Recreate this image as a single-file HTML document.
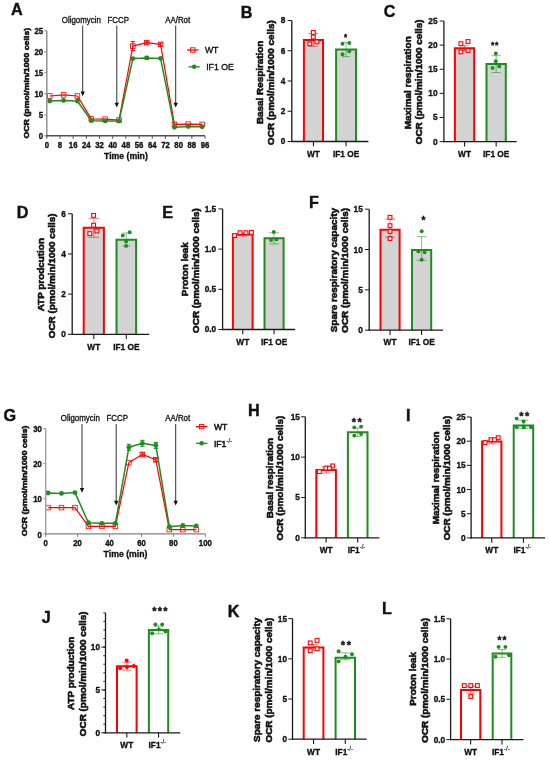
<!DOCTYPE html>
<html><head><meta charset="utf-8"><title>OCR figure</title>
<style>html,body{margin:0;padding:0;background:#fff;width:550px;height:761px;overflow:hidden}svg{display:block}</style>
</head><body>
<svg width="550" height="761" viewBox="0 0 550 761" font-family="'Liberation Sans', Arial, Helvetica, sans-serif">
<rect width="550" height="761" fill="#ffffff"/>
<line x1="82.7" y1="25.5" x2="82.7" y2="93.2" stroke="#333" stroke-width="1"/>
<path d="M80.5 91.4 L84.9 91.4 L82.7 96.2 Z" fill="#111"/>
<text font-size="7.9" text-anchor="middle" fill="#111" stroke="#111" stroke-width="0.3" transform="translate(81.3 22.6) scale(1 1.06)">Oligomycin</text>
<line x1="116.8" y1="25.5" x2="116.8" y2="104.6" stroke="#333" stroke-width="1"/>
<path d="M114.6 102.8 L119 102.8 L116.8 107.6 Z" fill="#111"/>
<text font-size="7.9" text-anchor="middle" fill="#111" stroke="#111" stroke-width="0.3" transform="translate(118.2 22.6) scale(1 1.06)">FCCP</text>
<line x1="175.7" y1="25.5" x2="175.7" y2="104.6" stroke="#333" stroke-width="1"/>
<path d="M173.5 102.8 L177.9 102.8 L175.7 107.6 Z" fill="#111"/>
<text font-size="7.9" text-anchor="middle" fill="#111" stroke="#111" stroke-width="0.3" transform="translate(177.7 22.6) scale(1 1.06)">AA/Rot</text>
<path d="M49.7 96 L63.56 94.9 L77.42 96 L91.28 118.9 L105.14 119.2 L119 120 L132.86 46.1 L146.72 42.6 L160.58 44.4 L174.44 124.4 L188.3 124.2 L202.16 124.4" fill="none" stroke="#ff0000" stroke-width="1.2" stroke-linejoin="round"/>
<rect x="47.4" y="93.7" width="4.6" height="4.6" fill="none" stroke="#ff0000" stroke-width="0.8"/>
<rect x="61.26" y="92.6" width="4.6" height="4.6" fill="none" stroke="#ff0000" stroke-width="0.8"/>
<rect x="75.12" y="93.7" width="4.6" height="4.6" fill="none" stroke="#ff0000" stroke-width="0.8"/>
<rect x="88.98" y="116.6" width="4.6" height="4.6" fill="none" stroke="#ff0000" stroke-width="0.8"/>
<rect x="102.84" y="116.9" width="4.6" height="4.6" fill="none" stroke="#ff0000" stroke-width="0.8"/>
<rect x="116.7" y="117.7" width="4.6" height="4.6" fill="none" stroke="#ff0000" stroke-width="0.8"/>
<line x1="132.86" y1="41.6" x2="132.86" y2="50.6" stroke="#ff0000" stroke-width="1"/>
<line x1="130.66" y1="41.6" x2="135.06" y2="41.6" stroke="#ff0000" stroke-width="1"/>
<line x1="130.66" y1="50.6" x2="135.06" y2="50.6" stroke="#ff0000" stroke-width="1"/>
<rect x="130.56" y="43.8" width="4.6" height="4.6" fill="none" stroke="#ff0000" stroke-width="0.8"/>
<line x1="146.72" y1="41.1" x2="146.72" y2="44.1" stroke="#ff0000" stroke-width="1"/>
<line x1="144.52" y1="41.1" x2="148.92" y2="41.1" stroke="#ff0000" stroke-width="1"/>
<line x1="144.52" y1="44.1" x2="148.92" y2="44.1" stroke="#ff0000" stroke-width="1"/>
<rect x="144.42" y="40.3" width="4.6" height="4.6" fill="none" stroke="#ff0000" stroke-width="0.8"/>
<line x1="160.58" y1="42.9" x2="160.58" y2="45.9" stroke="#ff0000" stroke-width="1"/>
<line x1="158.38" y1="42.9" x2="162.78" y2="42.9" stroke="#ff0000" stroke-width="1"/>
<line x1="158.38" y1="45.9" x2="162.78" y2="45.9" stroke="#ff0000" stroke-width="1"/>
<rect x="158.28" y="42.1" width="4.6" height="4.6" fill="none" stroke="#ff0000" stroke-width="0.8"/>
<rect x="172.14" y="122.1" width="4.6" height="4.6" fill="none" stroke="#ff0000" stroke-width="0.8"/>
<rect x="186" y="121.9" width="4.6" height="4.6" fill="none" stroke="#ff0000" stroke-width="0.8"/>
<rect x="199.86" y="122.1" width="4.6" height="4.6" fill="none" stroke="#ff0000" stroke-width="0.8"/>
<path d="M49.7 101 L63.56 100.4 L77.42 101 L91.28 120.7 L105.14 120.9 L119 121.1 L132.86 58.6 L146.72 57.9 L160.58 58.4 L174.44 127.3 L188.3 126.6 L202.16 126.8" fill="none" stroke="#1e8c1e" stroke-width="1.5" stroke-linejoin="round"/>
<circle cx="49.7" cy="101" r="2.4" fill="#1e8c1e"/>
<circle cx="63.56" cy="100.4" r="2.4" fill="#1e8c1e"/>
<circle cx="77.42" cy="101" r="2.4" fill="#1e8c1e"/>
<circle cx="91.28" cy="120.7" r="2.4" fill="#1e8c1e"/>
<circle cx="105.14" cy="120.9" r="2.4" fill="#1e8c1e"/>
<circle cx="119" cy="121.1" r="2.4" fill="#1e8c1e"/>
<circle cx="132.86" cy="58.6" r="2.4" fill="#1e8c1e"/>
<line x1="146.72" y1="56.4" x2="146.72" y2="59.4" stroke="#1e8c1e" stroke-width="1"/>
<line x1="144.52" y1="56.4" x2="148.92" y2="56.4" stroke="#1e8c1e" stroke-width="1"/>
<line x1="144.52" y1="59.4" x2="148.92" y2="59.4" stroke="#1e8c1e" stroke-width="1"/>
<circle cx="146.72" cy="57.9" r="2.4" fill="#1e8c1e"/>
<circle cx="160.58" cy="58.4" r="2.4" fill="#1e8c1e"/>
<circle cx="174.44" cy="127.3" r="2.4" fill="#1e8c1e"/>
<circle cx="188.3" cy="126.6" r="2.4" fill="#1e8c1e"/>
<circle cx="202.16" cy="126.8" r="2.4" fill="#1e8c1e"/>
<line x1="46.8" y1="136.4" x2="46.8" y2="30.8" stroke="#8a8a8a" stroke-width="1.4"/>
<line x1="44.1" y1="135.8" x2="46.8" y2="135.8" stroke="#8a8a8a" stroke-width="1"/>
<text font-size="7.8" text-anchor="end" font-weight="bold" fill="#111111" stroke="#111111" stroke-width="0.32" transform="translate(43.1 138.61) scale(1 1.06)">0</text>
<line x1="44.1" y1="114.8" x2="46.8" y2="114.8" stroke="#8a8a8a" stroke-width="1"/>
<text font-size="7.8" text-anchor="end" font-weight="bold" fill="#111111" stroke="#111111" stroke-width="0.32" transform="translate(43.1 117.61) scale(1 1.06)">5</text>
<line x1="44.1" y1="93.8" x2="46.8" y2="93.8" stroke="#8a8a8a" stroke-width="1"/>
<text font-size="7.8" text-anchor="end" font-weight="bold" fill="#111111" stroke="#111111" stroke-width="0.32" transform="translate(43.1 96.61) scale(1 1.06)">10</text>
<line x1="44.1" y1="72.8" x2="46.8" y2="72.8" stroke="#8a8a8a" stroke-width="1"/>
<text font-size="7.8" text-anchor="end" font-weight="bold" fill="#111111" stroke="#111111" stroke-width="0.32" transform="translate(43.1 75.61) scale(1 1.06)">15</text>
<line x1="44.1" y1="51.8" x2="46.8" y2="51.8" stroke="#8a8a8a" stroke-width="1"/>
<text font-size="7.8" text-anchor="end" font-weight="bold" fill="#111111" stroke="#111111" stroke-width="0.32" transform="translate(43.1 54.61) scale(1 1.06)">20</text>
<line x1="44.1" y1="30.8" x2="46.8" y2="30.8" stroke="#8a8a8a" stroke-width="1"/>
<text font-size="7.8" text-anchor="end" font-weight="bold" fill="#111111" stroke="#111111" stroke-width="0.32" transform="translate(43.1 33.61) scale(1 1.06)">25</text>
<line x1="46.2" y1="135.8" x2="205" y2="135.8" stroke="#505050" stroke-width="1.4"/>
<line x1="46.8" y1="135.8" x2="46.8" y2="138.8" stroke="#505050" stroke-width="1"/>
<text font-size="7.8" text-anchor="middle" font-weight="bold" fill="#111111" stroke="#111111" stroke-width="0.32" transform="translate(46.8 147.8) scale(1 1.06)">0</text>
<line x1="59.98" y1="135.8" x2="59.98" y2="138.8" stroke="#505050" stroke-width="1"/>
<text font-size="7.8" text-anchor="middle" font-weight="bold" fill="#111111" stroke="#111111" stroke-width="0.32" transform="translate(59.98 147.8) scale(1 1.06)">8</text>
<line x1="73.17" y1="135.8" x2="73.17" y2="138.8" stroke="#505050" stroke-width="1"/>
<text font-size="7.8" text-anchor="middle" font-weight="bold" fill="#111111" stroke="#111111" stroke-width="0.32" transform="translate(73.17 147.8) scale(1 1.06)">16</text>
<line x1="86.35" y1="135.8" x2="86.35" y2="138.8" stroke="#505050" stroke-width="1"/>
<text font-size="7.8" text-anchor="middle" font-weight="bold" fill="#111111" stroke="#111111" stroke-width="0.32" transform="translate(86.35 147.8) scale(1 1.06)">24</text>
<line x1="99.53" y1="135.8" x2="99.53" y2="138.8" stroke="#505050" stroke-width="1"/>
<text font-size="7.8" text-anchor="middle" font-weight="bold" fill="#111111" stroke="#111111" stroke-width="0.32" transform="translate(99.53 147.8) scale(1 1.06)">32</text>
<line x1="112.72" y1="135.8" x2="112.72" y2="138.8" stroke="#505050" stroke-width="1"/>
<text font-size="7.8" text-anchor="middle" font-weight="bold" fill="#111111" stroke="#111111" stroke-width="0.32" transform="translate(112.72 147.8) scale(1 1.06)">40</text>
<line x1="125.9" y1="135.8" x2="125.9" y2="138.8" stroke="#505050" stroke-width="1"/>
<text font-size="7.8" text-anchor="middle" font-weight="bold" fill="#111111" stroke="#111111" stroke-width="0.32" transform="translate(125.9 147.8) scale(1 1.06)">48</text>
<line x1="139.08" y1="135.8" x2="139.08" y2="138.8" stroke="#505050" stroke-width="1"/>
<text font-size="7.8" text-anchor="middle" font-weight="bold" fill="#111111" stroke="#111111" stroke-width="0.32" transform="translate(139.08 147.8) scale(1 1.06)">56</text>
<line x1="152.27" y1="135.8" x2="152.27" y2="138.8" stroke="#505050" stroke-width="1"/>
<text font-size="7.8" text-anchor="middle" font-weight="bold" fill="#111111" stroke="#111111" stroke-width="0.32" transform="translate(152.27 147.8) scale(1 1.06)">64</text>
<line x1="165.45" y1="135.8" x2="165.45" y2="138.8" stroke="#505050" stroke-width="1"/>
<text font-size="7.8" text-anchor="middle" font-weight="bold" fill="#111111" stroke="#111111" stroke-width="0.32" transform="translate(165.45 147.8) scale(1 1.06)">72</text>
<line x1="178.63" y1="135.8" x2="178.63" y2="138.8" stroke="#505050" stroke-width="1"/>
<text font-size="7.8" text-anchor="middle" font-weight="bold" fill="#111111" stroke="#111111" stroke-width="0.32" transform="translate(178.63 147.8) scale(1 1.06)">80</text>
<line x1="191.82" y1="135.8" x2="191.82" y2="138.8" stroke="#505050" stroke-width="1"/>
<text font-size="7.8" text-anchor="middle" font-weight="bold" fill="#111111" stroke="#111111" stroke-width="0.32" transform="translate(191.82 147.8) scale(1 1.06)">88</text>
<line x1="205" y1="135.8" x2="205" y2="138.8" stroke="#505050" stroke-width="1"/>
<text font-size="7.8" text-anchor="middle" font-weight="bold" fill="#111111" stroke="#111111" stroke-width="0.32" transform="translate(205 147.8) scale(1 1.06)">96</text>
<text font-size="8.7" text-anchor="middle" font-weight="bold" fill="#111111" stroke="#111111" stroke-width="0.32" transform="translate(125.9 159.2) scale(1 1.06)">Time (min)</text>
<text font-size="8.8" text-anchor="middle" font-weight="bold" fill="#111111" stroke="#111111" stroke-width="0.6" transform="translate(28.68 83.2) rotate(-90) scale(1 0.92)">OCR (pmol/min/1000 cells)</text>
<line x1="187.1" y1="50" x2="198.5" y2="50" stroke="#ff0000" stroke-width="1.3"/>
<rect x="190.6" y="47.8" width="4.4" height="4.4" fill="none" stroke="#ff0000" stroke-width="0.9"/>
<text font-size="8.7" text-anchor="start" fill="#111" stroke="#111" stroke-width="0.35" transform="translate(204.9 53.2) scale(1 1.06)">WT</text>
<line x1="188.5" y1="66.8" x2="199.8" y2="66.8" stroke="#1e8c1e" stroke-width="1.3"/>
<circle cx="194.15" cy="66.8" r="2.3" fill="#1e8c1e"/>
<text font-size="8.7" text-anchor="start" fill="#111" stroke="#111" stroke-width="0.35" transform="translate(206.2 70) scale(1 1.06)">IF1 OE</text>
<text font-size="16.2" text-anchor="start" font-weight="bold" fill="#111" stroke="#111" stroke-width="0.4" transform="translate(10.9 14.8) scale(1 1)">A</text>
<line x1="82" y1="424" x2="82" y2="489.8" stroke="#333" stroke-width="1"/>
<path d="M79.8 488 L84.2 488 L82 492.8 Z" fill="#111"/>
<text font-size="7.9" text-anchor="middle" fill="#111" stroke="#111" stroke-width="0.3" transform="translate(80.3 421.2) scale(1 1.06)">Oligomycin</text>
<line x1="116.2" y1="424" x2="116.2" y2="502.5" stroke="#333" stroke-width="1"/>
<path d="M114 500.7 L118.4 500.7 L116.2 505.5 Z" fill="#111"/>
<text font-size="7.9" text-anchor="middle" fill="#111" stroke="#111" stroke-width="0.3" transform="translate(117.2 421.2) scale(1 1.06)">FCCP</text>
<line x1="175.7" y1="424" x2="175.7" y2="502.5" stroke="#333" stroke-width="1"/>
<path d="M173.5 500.7 L177.9 500.7 L175.7 505.5 Z" fill="#111"/>
<text font-size="7.9" text-anchor="middle" fill="#111" stroke="#111" stroke-width="0.3" transform="translate(177.7 421.2) scale(1 1.06)">AA/Rot</text>
<path d="M48 507.6 L61.48 507.6 L74.96 507.6 L88.44 526.4 L101.92 526.4 L115.4 526.4 L128.88 462.6 L142.36 454.4 L155.84 459.8 L169.32 529.6 L182.8 529.6 L196.28 529.6" fill="none" stroke="#ff0000" stroke-width="1.2" stroke-linejoin="round"/>
<rect x="45.7" y="505.3" width="4.6" height="4.6" fill="none" stroke="#ff0000" stroke-width="0.8"/>
<rect x="59.18" y="505.3" width="4.6" height="4.6" fill="none" stroke="#ff0000" stroke-width="0.8"/>
<rect x="72.66" y="505.3" width="4.6" height="4.6" fill="none" stroke="#ff0000" stroke-width="0.8"/>
<rect x="86.14" y="524.1" width="4.6" height="4.6" fill="none" stroke="#ff0000" stroke-width="0.8"/>
<rect x="99.62" y="524.1" width="4.6" height="4.6" fill="none" stroke="#ff0000" stroke-width="0.8"/>
<rect x="113.1" y="524.1" width="4.6" height="4.6" fill="none" stroke="#ff0000" stroke-width="0.8"/>
<rect x="126.58" y="460.3" width="4.6" height="4.6" fill="none" stroke="#ff0000" stroke-width="0.8"/>
<line x1="142.36" y1="452.9" x2="142.36" y2="455.9" stroke="#ff0000" stroke-width="1"/>
<line x1="140.16" y1="452.9" x2="144.56" y2="452.9" stroke="#ff0000" stroke-width="1"/>
<line x1="140.16" y1="455.9" x2="144.56" y2="455.9" stroke="#ff0000" stroke-width="1"/>
<rect x="140.06" y="452.1" width="4.6" height="4.6" fill="none" stroke="#ff0000" stroke-width="0.8"/>
<line x1="155.84" y1="458.3" x2="155.84" y2="461.3" stroke="#ff0000" stroke-width="1"/>
<line x1="153.64" y1="458.3" x2="158.04" y2="458.3" stroke="#ff0000" stroke-width="1"/>
<line x1="153.64" y1="461.3" x2="158.04" y2="461.3" stroke="#ff0000" stroke-width="1"/>
<rect x="153.54" y="457.5" width="4.6" height="4.6" fill="none" stroke="#ff0000" stroke-width="0.8"/>
<rect x="167.02" y="527.3" width="4.6" height="4.6" fill="none" stroke="#ff0000" stroke-width="0.8"/>
<rect x="180.5" y="527.3" width="4.6" height="4.6" fill="none" stroke="#ff0000" stroke-width="0.8"/>
<rect x="193.98" y="527.3" width="4.6" height="4.6" fill="none" stroke="#ff0000" stroke-width="0.8"/>
<path d="M48 493 L61.48 493.4 L74.96 492.6 L88.44 522.7 L101.92 523.3 L115.4 523.3 L128.88 447.3 L142.36 443.3 L155.84 445.4 L169.32 526.7 L182.8 525.5 L196.28 526" fill="none" stroke="#1e8c1e" stroke-width="1.5" stroke-linejoin="round"/>
<circle cx="48" cy="493" r="2.4" fill="#1e8c1e"/>
<circle cx="61.48" cy="493.4" r="2.4" fill="#1e8c1e"/>
<circle cx="74.96" cy="492.6" r="2.4" fill="#1e8c1e"/>
<circle cx="88.44" cy="522.7" r="2.4" fill="#1e8c1e"/>
<circle cx="101.92" cy="523.3" r="2.4" fill="#1e8c1e"/>
<circle cx="115.4" cy="523.3" r="2.4" fill="#1e8c1e"/>
<line x1="128.88" y1="444.3" x2="128.88" y2="450.3" stroke="#1e8c1e" stroke-width="1"/>
<line x1="126.68" y1="444.3" x2="131.08" y2="444.3" stroke="#1e8c1e" stroke-width="1"/>
<line x1="126.68" y1="450.3" x2="131.08" y2="450.3" stroke="#1e8c1e" stroke-width="1"/>
<circle cx="128.88" cy="447.3" r="2.4" fill="#1e8c1e"/>
<line x1="142.36" y1="440.3" x2="142.36" y2="446.3" stroke="#1e8c1e" stroke-width="1"/>
<line x1="140.16" y1="440.3" x2="144.56" y2="440.3" stroke="#1e8c1e" stroke-width="1"/>
<line x1="140.16" y1="446.3" x2="144.56" y2="446.3" stroke="#1e8c1e" stroke-width="1"/>
<circle cx="142.36" cy="443.3" r="2.4" fill="#1e8c1e"/>
<line x1="155.84" y1="442.4" x2="155.84" y2="448.4" stroke="#1e8c1e" stroke-width="1"/>
<line x1="153.64" y1="442.4" x2="158.04" y2="442.4" stroke="#1e8c1e" stroke-width="1"/>
<line x1="153.64" y1="448.4" x2="158.04" y2="448.4" stroke="#1e8c1e" stroke-width="1"/>
<circle cx="155.84" cy="445.4" r="2.4" fill="#1e8c1e"/>
<circle cx="169.32" cy="526.7" r="2.4" fill="#1e8c1e"/>
<circle cx="182.8" cy="525.5" r="2.4" fill="#1e8c1e"/>
<circle cx="196.28" cy="526" r="2.4" fill="#1e8c1e"/>
<line x1="45.7" y1="534.5" x2="45.7" y2="428.39" stroke="#a0a0a0" stroke-width="1.4"/>
<line x1="43.2" y1="533.9" x2="45.7" y2="533.9" stroke="#a0a0a0" stroke-width="1"/>
<text font-size="7.8" text-anchor="end" font-weight="bold" fill="#111111" stroke="#111111" stroke-width="0.32" transform="translate(41.8 537.61) scale(1 1.06)">0</text>
<line x1="43.2" y1="498.73" x2="45.7" y2="498.73" stroke="#a0a0a0" stroke-width="1"/>
<text font-size="7.8" text-anchor="end" font-weight="bold" fill="#111111" stroke="#111111" stroke-width="0.32" transform="translate(41.8 502.44) scale(1 1.06)">10</text>
<line x1="43.2" y1="463.56" x2="45.7" y2="463.56" stroke="#a0a0a0" stroke-width="1"/>
<text font-size="7.8" text-anchor="end" font-weight="bold" fill="#111111" stroke="#111111" stroke-width="0.32" transform="translate(41.8 467.27) scale(1 1.06)">20</text>
<line x1="43.2" y1="428.39" x2="45.7" y2="428.39" stroke="#a0a0a0" stroke-width="1"/>
<text font-size="7.8" text-anchor="end" font-weight="bold" fill="#111111" stroke="#111111" stroke-width="0.32" transform="translate(41.8 432.1) scale(1 1.06)">30</text>
<line x1="45.1" y1="533.9" x2="205.3" y2="533.9" stroke="#808080" stroke-width="1.4"/>
<line x1="45.7" y1="533.9" x2="45.7" y2="536.9" stroke="#808080" stroke-width="1"/>
<text font-size="7.8" text-anchor="middle" font-weight="bold" fill="#111111" stroke="#111111" stroke-width="0.32" transform="translate(45.7 546.3) scale(1 1.06)">0</text>
<line x1="77.62" y1="533.9" x2="77.62" y2="536.9" stroke="#808080" stroke-width="1"/>
<text font-size="7.8" text-anchor="middle" font-weight="bold" fill="#111111" stroke="#111111" stroke-width="0.32" transform="translate(77.62 546.3) scale(1 1.06)">20</text>
<line x1="109.54" y1="533.9" x2="109.54" y2="536.9" stroke="#808080" stroke-width="1"/>
<text font-size="7.8" text-anchor="middle" font-weight="bold" fill="#111111" stroke="#111111" stroke-width="0.32" transform="translate(109.54 546.3) scale(1 1.06)">40</text>
<line x1="141.46" y1="533.9" x2="141.46" y2="536.9" stroke="#808080" stroke-width="1"/>
<text font-size="7.8" text-anchor="middle" font-weight="bold" fill="#111111" stroke="#111111" stroke-width="0.32" transform="translate(141.46 546.3) scale(1 1.06)">60</text>
<line x1="173.38" y1="533.9" x2="173.38" y2="536.9" stroke="#808080" stroke-width="1"/>
<text font-size="7.8" text-anchor="middle" font-weight="bold" fill="#111111" stroke="#111111" stroke-width="0.32" transform="translate(173.38 546.3) scale(1 1.06)">80</text>
<line x1="205.3" y1="533.9" x2="205.3" y2="536.9" stroke="#808080" stroke-width="1"/>
<text font-size="7.8" text-anchor="middle" font-weight="bold" fill="#111111" stroke="#111111" stroke-width="0.32" transform="translate(205.3 546.3) scale(1 1.06)">100</text>
<text font-size="8.7" text-anchor="middle" font-weight="bold" fill="#111111" stroke="#111111" stroke-width="0.32" transform="translate(125.5 557) scale(1 1.06)">Time (min)</text>
<text font-size="8.8" text-anchor="middle" font-weight="bold" fill="#111111" stroke="#111111" stroke-width="0.6" transform="translate(27.38 480.95) rotate(-90) scale(1 0.92)">OCR (pmol/min/1000 cells)</text>
<line x1="195.9" y1="426.6" x2="207.4" y2="426.6" stroke="#ff0000" stroke-width="1.3"/>
<rect x="199.45" y="424.4" width="4.4" height="4.4" fill="none" stroke="#ff0000" stroke-width="0.9"/>
<text font-size="8.7" text-anchor="start" fill="#111" stroke="#111" stroke-width="0.5" transform="translate(213.9 429.8) scale(1 1.06)">WT</text>
<line x1="195.9" y1="443.3" x2="207.4" y2="443.3" stroke="#1e8c1e" stroke-width="1.3"/>
<circle cx="201.65" cy="443.3" r="2.3" fill="#1e8c1e"/>
<text font-size="8.7" text-anchor="start" fill="#111" stroke="#111" stroke-width="0.5" transform="translate(213.9 446.5) scale(1 1.06)">IF1<tspan font-size="6" dy="-3.6" font-weight="normal" stroke-width="0.15">-/-</tspan></text>
<text font-size="16.2" text-anchor="start" font-weight="bold" fill="#111" stroke="#111" stroke-width="0.4" transform="translate(3.5 420.5) scale(1 1)">G</text>
<path d="M303.9 141.5 V39.9 H323 V141.5 Z" fill="#d3d3d3" stroke="none"/>
<path d="M303.9 141.5 V39.9 H323 V141.5" fill="none" stroke="#ff0000" stroke-width="2"/>
<path d="M336.1 141.5 V49.5 H356 V141.5 Z" fill="#d3d3d3" stroke="none"/>
<path d="M336.1 141.5 V49.5 H356 V141.5" fill="none" stroke="#1e8c1e" stroke-width="2"/>
<line x1="313.45" y1="33.5" x2="313.45" y2="46.3" stroke="#ff0000" stroke-width="0.9" stroke-opacity="0.6"/>
<line x1="308.75" y1="33.5" x2="318.15" y2="33.5" stroke="#ff0000" stroke-width="0.9" stroke-opacity="0.6"/>
<line x1="308.75" y1="46.3" x2="318.15" y2="46.3" stroke="#ff0000" stroke-width="0.9" stroke-opacity="0.6"/>
<rect x="311.4" y="30.5" width="3.8" height="3.8" fill="#ffffff" stroke="#ff0000" stroke-width="1.1"/>
<rect x="311.4" y="35.1" width="3.8" height="3.8" fill="#ffffff" stroke="#ff0000" stroke-width="1.1"/>
<rect x="307.9" y="41.9" width="3.8" height="3.8" fill="#ffffff" stroke="#ff0000" stroke-width="1.1"/>
<rect x="315" y="40" width="3.8" height="3.8" fill="#ffffff" stroke="#ff0000" stroke-width="1.1"/>
<line x1="346.05" y1="42.4" x2="346.05" y2="56.6" stroke="#1e8c1e" stroke-width="0.9" stroke-opacity="0.6"/>
<line x1="342.05" y1="42.4" x2="350.05" y2="42.4" stroke="#1e8c1e" stroke-width="0.9" stroke-opacity="0.6"/>
<line x1="342.05" y1="56.6" x2="350.05" y2="56.6" stroke="#1e8c1e" stroke-width="0.9" stroke-opacity="0.6"/>
<circle cx="342.5" cy="43.8" r="1.95" fill="#1e8c1e"/>
<circle cx="349.3" cy="43" r="1.95" fill="#1e8c1e"/>
<circle cx="342.5" cy="54.2" r="1.95" fill="#1e8c1e"/>
<circle cx="349.3" cy="51.2" r="1.95" fill="#1e8c1e"/>
<text font-size="8" text-anchor="middle" font-weight="bold" fill="#111111" stroke="#111111" stroke-width="0.35" transform="translate(345.6 40.28) scale(1 1.06)">*</text>
<line x1="291.8" y1="142.1" x2="291.8" y2="20.5" stroke="#1a1a1a" stroke-width="1.3"/>
<line x1="287.6" y1="141.5" x2="291.8" y2="141.5" stroke="#1a1a1a" stroke-width="1"/>
<text font-size="8.3" text-anchor="end" font-weight="bold" fill="#111111" stroke="#111111" stroke-width="0.32" transform="translate(285.4 144.49) scale(1 1.06)">0</text>
<line x1="287.6" y1="111.25" x2="291.8" y2="111.25" stroke="#1a1a1a" stroke-width="1"/>
<text font-size="8.3" text-anchor="end" font-weight="bold" fill="#111111" stroke="#111111" stroke-width="0.32" transform="translate(285.4 114.24) scale(1 1.06)">2</text>
<line x1="287.6" y1="81" x2="291.8" y2="81" stroke="#1a1a1a" stroke-width="1"/>
<text font-size="8.3" text-anchor="end" font-weight="bold" fill="#111111" stroke="#111111" stroke-width="0.32" transform="translate(285.4 83.99) scale(1 1.06)">4</text>
<line x1="287.6" y1="50.75" x2="291.8" y2="50.75" stroke="#1a1a1a" stroke-width="1"/>
<text font-size="8.3" text-anchor="end" font-weight="bold" fill="#111111" stroke="#111111" stroke-width="0.32" transform="translate(285.4 53.74) scale(1 1.06)">6</text>
<line x1="287.6" y1="20.5" x2="291.8" y2="20.5" stroke="#1a1a1a" stroke-width="1"/>
<text font-size="8.3" text-anchor="end" font-weight="bold" fill="#111111" stroke="#111111" stroke-width="0.32" transform="translate(285.4 23.49) scale(1 1.06)">8</text>
<line x1="291.2" y1="141.5" x2="368.4" y2="141.5" stroke="#1a1a1a" stroke-width="1.3"/>
<line x1="313.45" y1="141.5" x2="313.45" y2="146.3" stroke="#1a1a1a" stroke-width="1.1"/>
<text font-size="8.3" text-anchor="middle" font-weight="bold" fill="#111111" stroke="#111111" stroke-width="0.32" transform="translate(313.45 157) scale(1 1.06)">WT</text>
<line x1="346.05" y1="141.5" x2="346.05" y2="146.3" stroke="#1a1a1a" stroke-width="1.1"/>
<text font-size="8.3" text-anchor="middle" font-weight="bold" fill="#111111" stroke="#111111" stroke-width="0.32" transform="translate(346.05 157) scale(1 1.06)">IF1 OE</text>
<text font-size="9.9" text-anchor="middle" font-weight="bold" fill="#111111" stroke="#111111" stroke-width="0.6" transform="translate(263.37 82.35) rotate(-90) scale(1 0.92)">Basal Respiration</text>
<text font-size="9.9" text-anchor="middle" font-weight="bold" fill="#111111" stroke="#111111" stroke-width="0.6" transform="translate(273.6 82.53) rotate(-90) scale(1 0.92)">OCR (pmol/min/1000 cells)</text>
<text font-size="16.2" text-anchor="start" font-weight="bold" fill="#111" stroke="#111" stroke-width="0.4" transform="translate(240.7 17.5) scale(1 1)">B</text>
<path d="M454.9 141.6 V48.3 H474.2 V141.6 Z" fill="#d3d3d3" stroke="none"/>
<path d="M454.9 141.6 V48.3 H474.2 V141.6" fill="none" stroke="#ff0000" stroke-width="2"/>
<path d="M486.5 141.6 V64.1 H505.8 V141.6 Z" fill="#d3d3d3" stroke="none"/>
<path d="M486.5 141.6 V64.1 H505.8 V141.6" fill="none" stroke="#1e8c1e" stroke-width="2"/>
<line x1="464.55" y1="45.7" x2="464.55" y2="50.7" stroke="#ff0000" stroke-width="0.9" stroke-opacity="0.6"/>
<line x1="460.55" y1="45.7" x2="468.55" y2="45.7" stroke="#ff0000" stroke-width="0.9" stroke-opacity="0.6"/>
<line x1="460.55" y1="50.7" x2="468.55" y2="50.7" stroke="#ff0000" stroke-width="0.9" stroke-opacity="0.6"/>
<rect x="459" y="41.8" width="3.8" height="3.8" fill="#ffffff" stroke="#ff0000" stroke-width="1.1"/>
<rect x="466.1" y="39.6" width="3.8" height="3.8" fill="#ffffff" stroke="#ff0000" stroke-width="1.1"/>
<rect x="459" y="50" width="3.8" height="3.8" fill="#ffffff" stroke="#ff0000" stroke-width="1.1"/>
<rect x="466.1" y="48.6" width="3.8" height="3.8" fill="#ffffff" stroke="#ff0000" stroke-width="1.1"/>
<line x1="496.15" y1="55.7" x2="496.15" y2="72.5" stroke="#1e8c1e" stroke-width="0.9" stroke-opacity="0.6"/>
<line x1="491.45" y1="55.7" x2="500.85" y2="55.7" stroke="#1e8c1e" stroke-width="0.9" stroke-opacity="0.6"/>
<line x1="491.45" y1="72.5" x2="500.85" y2="72.5" stroke="#1e8c1e" stroke-width="0.9" stroke-opacity="0.6"/>
<circle cx="495.8" cy="53.5" r="1.95" fill="#1e8c1e"/>
<circle cx="495.8" cy="61.2" r="1.95" fill="#1e8c1e"/>
<circle cx="492.5" cy="67.9" r="1.95" fill="#1e8c1e"/>
<circle cx="499.3" cy="66.4" r="1.95" fill="#1e8c1e"/>
<text font-size="8.5" text-anchor="middle" font-weight="bold" fill="#111111" stroke="#111111" stroke-width="0.35" transform="translate(492.7 47.94) scale(1 1.06)">*</text>
<text font-size="8.5" text-anchor="middle" font-weight="bold" fill="#111111" stroke="#111111" stroke-width="0.35" transform="translate(496.6 47.94) scale(1 1.06)">*</text>
<line x1="443.9" y1="142.2" x2="443.9" y2="21" stroke="#1a1a1a" stroke-width="1.3"/>
<line x1="439.7" y1="141.6" x2="443.9" y2="141.6" stroke="#1a1a1a" stroke-width="1"/>
<text font-size="8.3" text-anchor="end" font-weight="bold" fill="#111111" stroke="#111111" stroke-width="0.32" transform="translate(437.5 144.59) scale(1 1.06)">0</text>
<line x1="439.7" y1="117.48" x2="443.9" y2="117.48" stroke="#1a1a1a" stroke-width="1"/>
<text font-size="8.3" text-anchor="end" font-weight="bold" fill="#111111" stroke="#111111" stroke-width="0.32" transform="translate(437.5 120.47) scale(1 1.06)">5</text>
<line x1="439.7" y1="93.36" x2="443.9" y2="93.36" stroke="#1a1a1a" stroke-width="1"/>
<text font-size="8.3" text-anchor="end" font-weight="bold" fill="#111111" stroke="#111111" stroke-width="0.32" transform="translate(437.5 96.35) scale(1 1.06)">10</text>
<line x1="439.7" y1="69.24" x2="443.9" y2="69.24" stroke="#1a1a1a" stroke-width="1"/>
<text font-size="8.3" text-anchor="end" font-weight="bold" fill="#111111" stroke="#111111" stroke-width="0.32" transform="translate(437.5 72.23) scale(1 1.06)">15</text>
<line x1="439.7" y1="45.12" x2="443.9" y2="45.12" stroke="#1a1a1a" stroke-width="1"/>
<text font-size="8.3" text-anchor="end" font-weight="bold" fill="#111111" stroke="#111111" stroke-width="0.32" transform="translate(437.5 48.11) scale(1 1.06)">20</text>
<line x1="439.7" y1="21" x2="443.9" y2="21" stroke="#1a1a1a" stroke-width="1"/>
<text font-size="8.3" text-anchor="end" font-weight="bold" fill="#111111" stroke="#111111" stroke-width="0.32" transform="translate(437.5 23.99) scale(1 1.06)">25</text>
<line x1="443.3" y1="141.6" x2="516.7" y2="141.6" stroke="#1a1a1a" stroke-width="1.3"/>
<line x1="464.55" y1="141.6" x2="464.55" y2="146.4" stroke="#1a1a1a" stroke-width="1.1"/>
<text font-size="8.3" text-anchor="middle" font-weight="bold" fill="#111111" stroke="#111111" stroke-width="0.32" transform="translate(464.55 156.6) scale(1 1.06)">WT</text>
<line x1="496.15" y1="141.6" x2="496.15" y2="146.4" stroke="#1a1a1a" stroke-width="1.1"/>
<text font-size="8.3" text-anchor="middle" font-weight="bold" fill="#111111" stroke="#111111" stroke-width="0.32" transform="translate(496.15 156.6) scale(1 1.06)">IF1 OE</text>
<text font-size="9.9" text-anchor="middle" font-weight="bold" fill="#111111" stroke="#111111" stroke-width="0.6" transform="translate(411.37 82.74) rotate(-90) scale(1 0.92)">Maximal respiration</text>
<text font-size="9.9" text-anchor="middle" font-weight="bold" fill="#111111" stroke="#111111" stroke-width="0.6" transform="translate(421.63 81.93) rotate(-90) scale(1 0.92)">OCR (pmol/min/1000 cells)</text>
<text font-size="16.2" text-anchor="start" font-weight="bold" fill="#111" stroke="#111" stroke-width="0.4" transform="translate(383.8 17.4) scale(1 1)">C</text>
<path d="M83.7 334.3 V227.8 H103.9 V334.3 Z" fill="#d3d3d3" stroke="none"/>
<path d="M83.7 334.3 V227.8 H103.9 V334.3" fill="none" stroke="#ff0000" stroke-width="2"/>
<path d="M116.5 334.3 V239.8 H136.1 V334.3 Z" fill="#d3d3d3" stroke="none"/>
<path d="M116.5 334.3 V239.8 H136.1 V334.3" fill="none" stroke="#1e8c1e" stroke-width="2"/>
<line x1="93.8" y1="218.3" x2="93.8" y2="237.3" stroke="#ff0000" stroke-width="0.9" stroke-opacity="0.6"/>
<line x1="88.5" y1="218.3" x2="99.1" y2="218.3" stroke="#ff0000" stroke-width="0.9" stroke-opacity="0.6"/>
<line x1="88.5" y1="237.3" x2="99.1" y2="237.3" stroke="#ff0000" stroke-width="0.9" stroke-opacity="0.6"/>
<rect x="91.7" y="213.5" width="3.8" height="3.8" fill="#ffffff" stroke="#ff0000" stroke-width="1.1"/>
<rect x="91.7" y="223.3" width="3.8" height="3.8" fill="#ffffff" stroke="#ff0000" stroke-width="1.1"/>
<rect x="87.9" y="231.7" width="3.8" height="3.8" fill="#ffffff" stroke="#ff0000" stroke-width="1.1"/>
<rect x="95" y="229.1" width="3.8" height="3.8" fill="#ffffff" stroke="#ff0000" stroke-width="1.1"/>
<line x1="126.3" y1="233" x2="126.3" y2="246" stroke="#1e8c1e" stroke-width="0.9" stroke-opacity="0.6"/>
<line x1="122.3" y1="233" x2="130.3" y2="233" stroke="#1e8c1e" stroke-width="0.9" stroke-opacity="0.6"/>
<line x1="122.3" y1="246" x2="130.3" y2="246" stroke="#1e8c1e" stroke-width="0.9" stroke-opacity="0.6"/>
<circle cx="122.8" cy="235.5" r="1.95" fill="#1e8c1e"/>
<circle cx="129.7" cy="232.3" r="1.95" fill="#1e8c1e"/>
<circle cx="126.1" cy="241.4" r="1.95" fill="#1e8c1e"/>
<circle cx="126.1" cy="245.9" r="1.95" fill="#1e8c1e"/>
<line x1="72.2" y1="334.9" x2="72.2" y2="213.8" stroke="#1a1a1a" stroke-width="1.3"/>
<line x1="68" y1="334.3" x2="72.2" y2="334.3" stroke="#1a1a1a" stroke-width="1"/>
<text font-size="8.3" text-anchor="end" font-weight="bold" fill="#111111" stroke="#111111" stroke-width="0.32" transform="translate(65.8 337.29) scale(1 1.06)">0</text>
<line x1="68" y1="294.13" x2="72.2" y2="294.13" stroke="#1a1a1a" stroke-width="1"/>
<text font-size="8.3" text-anchor="end" font-weight="bold" fill="#111111" stroke="#111111" stroke-width="0.32" transform="translate(65.8 297.12) scale(1 1.06)">2</text>
<line x1="68" y1="253.97" x2="72.2" y2="253.97" stroke="#1a1a1a" stroke-width="1"/>
<text font-size="8.3" text-anchor="end" font-weight="bold" fill="#111111" stroke="#111111" stroke-width="0.32" transform="translate(65.8 256.95) scale(1 1.06)">4</text>
<line x1="68" y1="213.8" x2="72.2" y2="213.8" stroke="#1a1a1a" stroke-width="1"/>
<text font-size="8.3" text-anchor="end" font-weight="bold" fill="#111111" stroke="#111111" stroke-width="0.32" transform="translate(65.8 216.79) scale(1 1.06)">6</text>
<line x1="71.6" y1="334.3" x2="149.2" y2="334.3" stroke="#1a1a1a" stroke-width="1.3"/>
<line x1="93.8" y1="334.3" x2="93.8" y2="339.1" stroke="#1a1a1a" stroke-width="1.1"/>
<text font-size="8.3" text-anchor="middle" font-weight="bold" fill="#111111" stroke="#111111" stroke-width="0.32" transform="translate(93.8 350.2) scale(1 1.06)">WT</text>
<line x1="126.3" y1="334.3" x2="126.3" y2="339.1" stroke="#1a1a1a" stroke-width="1.1"/>
<text font-size="8.3" text-anchor="middle" font-weight="bold" fill="#111111" stroke="#111111" stroke-width="0.32" transform="translate(126.3 350.2) scale(1 1.06)">IF1 OE</text>
<text font-size="9.9" text-anchor="middle" font-weight="bold" fill="#111111" stroke="#111111" stroke-width="0.6" transform="translate(44.29 274.68) rotate(-90) scale(1 0.92)">ATP prodcution</text>
<text font-size="9.9" text-anchor="middle" font-weight="bold" fill="#111111" stroke="#111111" stroke-width="0.6" transform="translate(54.68 275.94) rotate(-90) scale(1 0.92)">OCR (pmol/min/1000 cells)</text>
<text font-size="16.2" text-anchor="start" font-weight="bold" fill="#111" stroke="#111" stroke-width="0.4" transform="translate(16.7 217.7) scale(1 1)">D</text>
<path d="M232.9 329.5 V234.5 H252.6 V329.5 Z" fill="#d3d3d3" stroke="none"/>
<path d="M232.9 329.5 V234.5 H252.6 V329.5" fill="none" stroke="#ff0000" stroke-width="2"/>
<path d="M264.5 329.5 V238.3 H283.6 V329.5 Z" fill="#d3d3d3" stroke="none"/>
<path d="M264.5 329.5 V238.3 H283.6 V329.5" fill="none" stroke="#1e8c1e" stroke-width="2"/>
<line x1="242.75" y1="233" x2="242.75" y2="236" stroke="#ff0000" stroke-width="0.9" stroke-opacity="0.6"/>
<line x1="238.75" y1="233" x2="246.75" y2="233" stroke="#ff0000" stroke-width="0.9" stroke-opacity="0.6"/>
<line x1="238.75" y1="236" x2="246.75" y2="236" stroke="#ff0000" stroke-width="0.9" stroke-opacity="0.6"/>
<rect x="232.6" y="233.7" width="3.8" height="3.8" fill="#ffffff" stroke="#ff0000" stroke-width="1.1"/>
<rect x="238.1" y="230.8" width="3.8" height="3.8" fill="#ffffff" stroke="#ff0000" stroke-width="1.1"/>
<rect x="244.1" y="230.8" width="3.8" height="3.8" fill="#ffffff" stroke="#ff0000" stroke-width="1.1"/>
<rect x="249.5" y="230.5" width="3.8" height="3.8" fill="#ffffff" stroke="#ff0000" stroke-width="1.1"/>
<line x1="274.05" y1="232.7" x2="274.05" y2="243.9" stroke="#1e8c1e" stroke-width="0.9" stroke-opacity="0.6"/>
<line x1="269.15" y1="232.7" x2="278.95" y2="232.7" stroke="#1e8c1e" stroke-width="0.9" stroke-opacity="0.6"/>
<line x1="269.15" y1="243.9" x2="278.95" y2="243.9" stroke="#1e8c1e" stroke-width="0.9" stroke-opacity="0.6"/>
<circle cx="273.8" cy="232" r="1.95" fill="#1e8c1e"/>
<circle cx="271.1" cy="240" r="1.95" fill="#1e8c1e"/>
<circle cx="276.5" cy="239.4" r="1.95" fill="#1e8c1e"/>
<line x1="222.6" y1="330.1" x2="222.6" y2="208.9" stroke="#1a1a1a" stroke-width="1.3"/>
<line x1="218.4" y1="329.5" x2="222.6" y2="329.5" stroke="#1a1a1a" stroke-width="1"/>
<text font-size="8.3" text-anchor="end" font-weight="bold" fill="#111111" stroke="#111111" stroke-width="0.32" transform="translate(216.2 332.49) scale(1 1.06)">0.0</text>
<line x1="218.4" y1="289.3" x2="222.6" y2="289.3" stroke="#1a1a1a" stroke-width="1"/>
<text font-size="8.3" text-anchor="end" font-weight="bold" fill="#111111" stroke="#111111" stroke-width="0.32" transform="translate(216.2 292.29) scale(1 1.06)">0.5</text>
<line x1="218.4" y1="249.1" x2="222.6" y2="249.1" stroke="#1a1a1a" stroke-width="1"/>
<text font-size="8.3" text-anchor="end" font-weight="bold" fill="#111111" stroke="#111111" stroke-width="0.32" transform="translate(216.2 252.09) scale(1 1.06)">1.0</text>
<line x1="218.4" y1="208.9" x2="222.6" y2="208.9" stroke="#1a1a1a" stroke-width="1"/>
<text font-size="8.3" text-anchor="end" font-weight="bold" fill="#111111" stroke="#111111" stroke-width="0.32" transform="translate(216.2 211.89) scale(1 1.06)">1.5</text>
<line x1="222" y1="329.5" x2="295.1" y2="329.5" stroke="#1a1a1a" stroke-width="1.3"/>
<line x1="242.75" y1="329.5" x2="242.75" y2="334.3" stroke="#1a1a1a" stroke-width="1.1"/>
<text font-size="8.3" text-anchor="middle" font-weight="bold" fill="#111111" stroke="#111111" stroke-width="0.32" transform="translate(242.75 345.2) scale(1 1.06)">WT</text>
<line x1="274.05" y1="329.5" x2="274.05" y2="334.3" stroke="#1a1a1a" stroke-width="1.1"/>
<text font-size="8.3" text-anchor="middle" font-weight="bold" fill="#111111" stroke="#111111" stroke-width="0.32" transform="translate(274.05 345.2) scale(1 1.06)">IF1 OE</text>
<text font-size="9.9" text-anchor="middle" font-weight="bold" fill="#111111" stroke="#111111" stroke-width="0.6" transform="translate(188.22 269.2) rotate(-90) scale(1 0.92)">Proton leak</text>
<text font-size="9.9" text-anchor="middle" font-weight="bold" fill="#111111" stroke="#111111" stroke-width="0.6" transform="translate(198.57 270.55) rotate(-90) scale(1 0.92)">OCR (pmol/min/1000 cells)</text>
<text font-size="16.2" text-anchor="start" font-weight="bold" fill="#111" stroke="#111" stroke-width="0.4" transform="translate(162.2 217.7) scale(1 1)">E</text>
<path d="M380.5 330.2 V229.7 H399.6 V330.2 Z" fill="#d3d3d3" stroke="none"/>
<path d="M380.5 330.2 V229.7 H399.6 V330.2" fill="none" stroke="#ff0000" stroke-width="2"/>
<path d="M412 330.2 V249.9 H431.2 V330.2 Z" fill="#d3d3d3" stroke="none"/>
<path d="M412 330.2 V249.9 H431.2 V330.2" fill="none" stroke="#1e8c1e" stroke-width="2"/>
<line x1="390.05" y1="219.1" x2="390.05" y2="237.2" stroke="#ff0000" stroke-width="0.9" stroke-opacity="0.6"/>
<line x1="384.95" y1="219.1" x2="395.15" y2="219.1" stroke="#ff0000" stroke-width="0.9" stroke-opacity="0.6"/>
<line x1="384.95" y1="237.2" x2="395.15" y2="237.2" stroke="#ff0000" stroke-width="0.9" stroke-opacity="0.6"/>
<rect x="388.1" y="215.4" width="3.8" height="3.8" fill="#ffffff" stroke="#ff0000" stroke-width="1.1"/>
<rect x="388.1" y="223.8" width="3.8" height="3.8" fill="#ffffff" stroke="#ff0000" stroke-width="1.1"/>
<rect x="388.1" y="229.5" width="3.8" height="3.8" fill="#ffffff" stroke="#ff0000" stroke-width="1.1"/>
<rect x="388.1" y="236.6" width="3.8" height="3.8" fill="#ffffff" stroke="#ff0000" stroke-width="1.1"/>
<line x1="421.6" y1="236.6" x2="421.6" y2="260.3" stroke="#1e8c1e" stroke-width="0.9" stroke-opacity="0.6"/>
<line x1="416.6" y1="236.6" x2="426.6" y2="236.6" stroke="#1e8c1e" stroke-width="0.9" stroke-opacity="0.6"/>
<line x1="416.6" y1="260.3" x2="426.6" y2="260.3" stroke="#1e8c1e" stroke-width="0.9" stroke-opacity="0.6"/>
<circle cx="421.7" cy="231.2" r="1.95" fill="#1e8c1e"/>
<circle cx="418.4" cy="251.4" r="1.95" fill="#1e8c1e"/>
<circle cx="424.6" cy="252.2" r="1.95" fill="#1e8c1e"/>
<circle cx="421.7" cy="259.8" r="1.95" fill="#1e8c1e"/>
<text font-size="10" text-anchor="middle" font-weight="bold" fill="#111111" stroke="#111111" stroke-width="0.35" transform="translate(423.5 223.5) scale(1 1.06)">*</text>
<line x1="369.2" y1="330.8" x2="369.2" y2="209.2" stroke="#1a1a1a" stroke-width="1.3"/>
<line x1="365" y1="330.2" x2="369.2" y2="330.2" stroke="#1a1a1a" stroke-width="1"/>
<text font-size="8.3" text-anchor="end" font-weight="bold" fill="#111111" stroke="#111111" stroke-width="0.32" transform="translate(362.8 333.19) scale(1 1.06)">0</text>
<line x1="365" y1="289.87" x2="369.2" y2="289.87" stroke="#1a1a1a" stroke-width="1"/>
<text font-size="8.3" text-anchor="end" font-weight="bold" fill="#111111" stroke="#111111" stroke-width="0.32" transform="translate(362.8 292.85) scale(1 1.06)">5</text>
<line x1="365" y1="249.53" x2="369.2" y2="249.53" stroke="#1a1a1a" stroke-width="1"/>
<text font-size="8.3" text-anchor="end" font-weight="bold" fill="#111111" stroke="#111111" stroke-width="0.32" transform="translate(362.8 252.52) scale(1 1.06)">10</text>
<line x1="365" y1="209.2" x2="369.2" y2="209.2" stroke="#1a1a1a" stroke-width="1"/>
<text font-size="8.3" text-anchor="end" font-weight="bold" fill="#111111" stroke="#111111" stroke-width="0.32" transform="translate(362.8 212.19) scale(1 1.06)">15</text>
<line x1="368.6" y1="330.2" x2="443.1" y2="330.2" stroke="#1a1a1a" stroke-width="1.3"/>
<line x1="390.05" y1="330.2" x2="390.05" y2="335" stroke="#1a1a1a" stroke-width="1.1"/>
<text font-size="8.3" text-anchor="middle" font-weight="bold" fill="#111111" stroke="#111111" stroke-width="0.32" transform="translate(390.05 345.4) scale(1 1.06)">WT</text>
<line x1="421.6" y1="330.2" x2="421.6" y2="335" stroke="#1a1a1a" stroke-width="1.1"/>
<text font-size="8.3" text-anchor="middle" font-weight="bold" fill="#111111" stroke="#111111" stroke-width="0.32" transform="translate(421.6 345.4) scale(1 1.06)">IF1 OE</text>
<text font-size="9.9" text-anchor="middle" font-weight="bold" fill="#111111" stroke="#111111" stroke-width="0.6" transform="translate(336.82 270.15) rotate(-90) scale(1 0.92)">Spare respiratory capacity</text>
<text font-size="9.9" text-anchor="middle" font-weight="bold" fill="#111111" stroke="#111111" stroke-width="0.6" transform="translate(348.25 270.42) rotate(-90) scale(1 0.92)">OCR (pmol/min/1000 cells)</text>
<text font-size="16.2" text-anchor="start" font-weight="bold" fill="#111" stroke="#111" stroke-width="0.4" transform="translate(309 208.1) scale(1 1)">F</text>
<path d="M316.3 537.8 V469.9 H335.9 V537.8 Z" fill="#ffffff" stroke="none"/>
<path d="M316.3 537.8 V469.9 H335.9 V537.8" fill="none" stroke="#ff0000" stroke-width="2"/>
<path d="M347.9 537.8 V432.3 H367.5 V537.8 Z" fill="#ffffff" stroke="none"/>
<path d="M347.9 537.8 V432.3 H367.5 V537.8" fill="none" stroke="#1e8c1e" stroke-width="2"/>
<line x1="326.1" y1="466.7" x2="326.1" y2="473.1" stroke="#ff0000" stroke-width="0.9" stroke-opacity="0.6"/>
<line x1="321.7" y1="466.7" x2="330.5" y2="466.7" stroke="#ff0000" stroke-width="0.9" stroke-opacity="0.6"/>
<line x1="321.7" y1="473.1" x2="330.5" y2="473.1" stroke="#ff0000" stroke-width="0.9" stroke-opacity="0.6"/>
<rect x="317.5" y="469.7" width="3.8" height="3.8" fill="#ffffff" stroke="#ff0000" stroke-width="1.1"/>
<rect x="330.8" y="464" width="3.8" height="3.8" fill="#ffffff" stroke="#ff0000" stroke-width="1.1"/>
<rect x="324" y="466.2" width="3.8" height="3.8" fill="#ffffff" stroke="#ff0000" stroke-width="1.1"/>
<rect x="327.6" y="466.2" width="3.8" height="3.8" fill="#ffffff" stroke="#ff0000" stroke-width="1.1"/>
<line x1="357.7" y1="428" x2="357.7" y2="436.6" stroke="#1e8c1e" stroke-width="0.9" stroke-opacity="0.6"/>
<line x1="353.7" y1="428" x2="361.7" y2="428" stroke="#1e8c1e" stroke-width="0.9" stroke-opacity="0.6"/>
<line x1="353.7" y1="436.6" x2="361.7" y2="436.6" stroke="#1e8c1e" stroke-width="0.9" stroke-opacity="0.6"/>
<circle cx="354.3" cy="427.4" r="1.95" fill="#1e8c1e"/>
<circle cx="361.1" cy="426.6" r="1.95" fill="#1e8c1e"/>
<circle cx="354.3" cy="435.6" r="1.95" fill="#1e8c1e"/>
<circle cx="361.1" cy="434" r="1.95" fill="#1e8c1e"/>
<text font-size="11" text-anchor="middle" font-weight="bold" fill="#111111" stroke="#111111" stroke-width="0.35" transform="translate(353.8 425.91) scale(1 1.06)">*</text>
<text font-size="11" text-anchor="middle" font-weight="bold" fill="#111111" stroke="#111111" stroke-width="0.35" transform="translate(359.6 425.91) scale(1 1.06)">*</text>
<line x1="305.3" y1="538.4" x2="305.3" y2="416.8" stroke="#1a1a1a" stroke-width="1.3"/>
<line x1="301.1" y1="537.8" x2="305.3" y2="537.8" stroke="#1a1a1a" stroke-width="1"/>
<text font-size="8.3" text-anchor="end" font-weight="bold" fill="#111111" stroke="#111111" stroke-width="0.32" transform="translate(299.9 540.79) scale(1 1.06)">0</text>
<line x1="301.1" y1="497.47" x2="305.3" y2="497.47" stroke="#1a1a1a" stroke-width="1"/>
<text font-size="8.3" text-anchor="end" font-weight="bold" fill="#111111" stroke="#111111" stroke-width="0.32" transform="translate(299.9 500.45) scale(1 1.06)">5</text>
<line x1="301.1" y1="457.13" x2="305.3" y2="457.13" stroke="#1a1a1a" stroke-width="1"/>
<text font-size="8.3" text-anchor="end" font-weight="bold" fill="#111111" stroke="#111111" stroke-width="0.32" transform="translate(299.9 460.12) scale(1 1.06)">10</text>
<line x1="301.1" y1="416.8" x2="305.3" y2="416.8" stroke="#1a1a1a" stroke-width="1"/>
<text font-size="8.3" text-anchor="end" font-weight="bold" fill="#111111" stroke="#111111" stroke-width="0.32" transform="translate(299.9 419.79) scale(1 1.06)">15</text>
<line x1="304.7" y1="537.8" x2="379.3" y2="537.8" stroke="#1a1a1a" stroke-width="1.3"/>
<line x1="326.1" y1="537.8" x2="326.1" y2="542.6" stroke="#1a1a1a" stroke-width="1.1"/>
<text font-size="8.3" text-anchor="middle" font-weight="bold" fill="#111111" stroke="#111111" stroke-width="0.32" transform="translate(326.1 552.6) scale(1 1.06)">WT</text>
<line x1="357.7" y1="537.8" x2="357.7" y2="542.6" stroke="#1a1a1a" stroke-width="1.1"/>
<text font-size="8.3" text-anchor="middle" font-weight="bold" fill="#111111" stroke="#111111" stroke-width="0.32" transform="translate(356.5 552.6) scale(1 1.06)">IF1<tspan font-size="6" dy="-3.6" font-weight="normal" stroke-width="0.15">-/-</tspan></text>
<text font-size="9.9" text-anchor="middle" font-weight="bold" fill="#111111" stroke="#111111" stroke-width="0.6" transform="translate(272.87 478.11) rotate(-90) scale(1 0.92)">Basal respiration</text>
<text font-size="9.9" text-anchor="middle" font-weight="bold" fill="#111111" stroke="#111111" stroke-width="0.6" transform="translate(283.49 478.11) rotate(-90) scale(1 0.92)">OCR (pmol/min/1000 cells)</text>
<text font-size="16.2" text-anchor="start" font-weight="bold" fill="#111" stroke="#111" stroke-width="0.4" transform="translate(248.1 415.7) scale(1 1)">H</text>
<path d="M482.1 537.9 V441.4 H501.4 V537.9 Z" fill="#ffffff" stroke="none"/>
<path d="M482.1 537.9 V441.4 H501.4 V537.9" fill="none" stroke="#ff0000" stroke-width="2"/>
<path d="M513.7 537.9 V425.6 H533.2 V537.9 Z" fill="#ffffff" stroke="none"/>
<path d="M513.7 537.9 V425.6 H533.2 V537.9" fill="none" stroke="#1e8c1e" stroke-width="2"/>
<line x1="491.75" y1="439" x2="491.75" y2="443.8" stroke="#ff0000" stroke-width="0.9" stroke-opacity="0.6"/>
<line x1="487.75" y1="439" x2="495.75" y2="439" stroke="#ff0000" stroke-width="0.9" stroke-opacity="0.6"/>
<line x1="487.75" y1="443.8" x2="495.75" y2="443.8" stroke="#ff0000" stroke-width="0.9" stroke-opacity="0.6"/>
<rect x="483.2" y="440.7" width="3.8" height="3.8" fill="#ffffff" stroke="#ff0000" stroke-width="1.1"/>
<rect x="496.3" y="435.8" width="3.8" height="3.8" fill="#ffffff" stroke="#ff0000" stroke-width="1.1"/>
<rect x="489.2" y="437.8" width="3.8" height="3.8" fill="#ffffff" stroke="#ff0000" stroke-width="1.1"/>
<rect x="492.5" y="437.8" width="3.8" height="3.8" fill="#ffffff" stroke="#ff0000" stroke-width="1.1"/>
<line x1="523.45" y1="420.3" x2="523.45" y2="428.5" stroke="#1e8c1e" stroke-width="0.9" stroke-opacity="0.6"/>
<line x1="518.55" y1="420.3" x2="528.35" y2="420.3" stroke="#1e8c1e" stroke-width="0.9" stroke-opacity="0.6"/>
<line x1="518.55" y1="428.5" x2="528.35" y2="428.5" stroke="#1e8c1e" stroke-width="0.9" stroke-opacity="0.6"/>
<circle cx="516.7" cy="418.6" r="1.95" fill="#1e8c1e"/>
<circle cx="523.6" cy="421.4" r="1.95" fill="#1e8c1e"/>
<circle cx="516.7" cy="427.2" r="1.95" fill="#1e8c1e"/>
<circle cx="523.8" cy="427.2" r="1.95" fill="#1e8c1e"/>
<circle cx="531" cy="427.2" r="1.95" fill="#1e8c1e"/>
<text font-size="11" text-anchor="middle" font-weight="bold" fill="#111111" stroke="#111111" stroke-width="0.35" transform="translate(521.4 419.91) scale(1 1.06)">*</text>
<text font-size="11" text-anchor="middle" font-weight="bold" fill="#111111" stroke="#111111" stroke-width="0.35" transform="translate(527.2 419.91) scale(1 1.06)">*</text>
<line x1="471.1" y1="538.5" x2="471.1" y2="417" stroke="#1a1a1a" stroke-width="1.3"/>
<line x1="466.9" y1="537.9" x2="471.1" y2="537.9" stroke="#1a1a1a" stroke-width="1"/>
<text font-size="8.3" text-anchor="end" font-weight="bold" fill="#111111" stroke="#111111" stroke-width="0.32" transform="translate(465.7 540.89) scale(1 1.06)">0</text>
<line x1="466.9" y1="513.72" x2="471.1" y2="513.72" stroke="#1a1a1a" stroke-width="1"/>
<text font-size="8.3" text-anchor="end" font-weight="bold" fill="#111111" stroke="#111111" stroke-width="0.32" transform="translate(465.7 516.71) scale(1 1.06)">5</text>
<line x1="466.9" y1="489.54" x2="471.1" y2="489.54" stroke="#1a1a1a" stroke-width="1"/>
<text font-size="8.3" text-anchor="end" font-weight="bold" fill="#111111" stroke="#111111" stroke-width="0.32" transform="translate(465.7 492.53) scale(1 1.06)">10</text>
<line x1="466.9" y1="465.36" x2="471.1" y2="465.36" stroke="#1a1a1a" stroke-width="1"/>
<text font-size="8.3" text-anchor="end" font-weight="bold" fill="#111111" stroke="#111111" stroke-width="0.32" transform="translate(465.7 468.35) scale(1 1.06)">15</text>
<line x1="466.9" y1="441.18" x2="471.1" y2="441.18" stroke="#1a1a1a" stroke-width="1"/>
<text font-size="8.3" text-anchor="end" font-weight="bold" fill="#111111" stroke="#111111" stroke-width="0.32" transform="translate(465.7 444.17) scale(1 1.06)">20</text>
<line x1="466.9" y1="417" x2="471.1" y2="417" stroke="#1a1a1a" stroke-width="1"/>
<text font-size="8.3" text-anchor="end" font-weight="bold" fill="#111111" stroke="#111111" stroke-width="0.32" transform="translate(465.7 419.99) scale(1 1.06)">25</text>
<line x1="470.5" y1="537.9" x2="545.1" y2="537.9" stroke="#1a1a1a" stroke-width="1.3"/>
<line x1="491.75" y1="537.9" x2="491.75" y2="542.7" stroke="#1a1a1a" stroke-width="1.1"/>
<text font-size="8.3" text-anchor="middle" font-weight="bold" fill="#111111" stroke="#111111" stroke-width="0.32" transform="translate(491.75 552.8) scale(1 1.06)">WT</text>
<line x1="523.45" y1="537.9" x2="523.45" y2="542.7" stroke="#1a1a1a" stroke-width="1.1"/>
<text font-size="8.3" text-anchor="middle" font-weight="bold" fill="#111111" stroke="#111111" stroke-width="0.32" transform="translate(522.25 552.8) scale(1 1.06)">IF1<tspan font-size="6" dy="-3.6" font-weight="normal" stroke-width="0.15">-/-</tspan></text>
<text font-size="9.9" text-anchor="middle" font-weight="bold" fill="#111111" stroke="#111111" stroke-width="0.6" transform="translate(438.96 477.9) rotate(-90) scale(1 0.92)">Maximal respiration</text>
<text font-size="9.9" text-anchor="middle" font-weight="bold" fill="#111111" stroke="#111111" stroke-width="0.6" transform="translate(449.7 477.99) rotate(-90) scale(1 0.92)">OCR (pmol/min/1000 cells)</text>
<text font-size="16.2" text-anchor="start" font-weight="bold" fill="#111" stroke="#111" stroke-width="0.4" transform="translate(405.9 420.6) scale(1 1)">I</text>
<path d="M117 732.8 V666.2 H136.6 V732.8 Z" fill="#ffffff" stroke="none"/>
<path d="M117 732.8 V666.2 H136.6 V732.8" fill="none" stroke="#ff0000" stroke-width="2"/>
<path d="M148.9 732.8 V629.9 H168.2 V732.8 Z" fill="#ffffff" stroke="none"/>
<path d="M148.9 732.8 V629.9 H168.2 V732.8" fill="none" stroke="#1e8c1e" stroke-width="2"/>
<line x1="126.8" y1="662.2" x2="126.8" y2="670.2" stroke="#ff0000" stroke-width="0.9" stroke-opacity="0.6"/>
<line x1="122.2" y1="662.2" x2="131.4" y2="662.2" stroke="#ff0000" stroke-width="0.9" stroke-opacity="0.6"/>
<line x1="122.2" y1="670.2" x2="131.4" y2="670.2" stroke="#ff0000" stroke-width="0.9" stroke-opacity="0.6"/>
<circle cx="126.7" cy="660.5" r="1.95" fill="#ff0000"/>
<circle cx="120.2" cy="668.2" r="1.95" fill="#ff0000"/>
<circle cx="133.8" cy="666" r="1.95" fill="#ff0000"/>
<circle cx="127" cy="667" r="1.95" fill="#ff0000"/>
<line x1="158.55" y1="626" x2="158.55" y2="633.8" stroke="#1e8c1e" stroke-width="0.9" stroke-opacity="0.6"/>
<line x1="154.05" y1="626" x2="163.05" y2="626" stroke="#1e8c1e" stroke-width="0.9" stroke-opacity="0.6"/>
<line x1="154.05" y1="633.8" x2="163.05" y2="633.8" stroke="#1e8c1e" stroke-width="0.9" stroke-opacity="0.6"/>
<circle cx="155.4" cy="624.5" r="1.95" fill="#1e8c1e"/>
<circle cx="162.2" cy="624.5" r="1.95" fill="#1e8c1e"/>
<circle cx="152.1" cy="633.3" r="1.95" fill="#1e8c1e"/>
<circle cx="165.4" cy="631.6" r="1.95" fill="#1e8c1e"/>
<circle cx="158.9" cy="629.4" r="1.95" fill="#1e8c1e"/>
<text font-size="11" text-anchor="middle" font-weight="bold" fill="#111111" stroke="#111111" stroke-width="0.35" transform="translate(154.5 615.21) scale(1 1.06)">*</text>
<text font-size="11" text-anchor="middle" font-weight="bold" fill="#111111" stroke="#111111" stroke-width="0.35" transform="translate(160 615.21) scale(1 1.06)">*</text>
<text font-size="11" text-anchor="middle" font-weight="bold" fill="#111111" stroke="#111111" stroke-width="0.35" transform="translate(165.5 615.21) scale(1 1.06)">*</text>
<line x1="105.5" y1="733.4" x2="105.5" y2="612.82" stroke="#1a1a1a" stroke-width="1.3"/>
<line x1="103.3" y1="732.8" x2="105.5" y2="732.8" stroke="#1a1a1a" stroke-width="0.9"/>
<line x1="103.3" y1="724.23" x2="105.5" y2="724.23" stroke="#1a1a1a" stroke-width="0.9"/>
<line x1="103.3" y1="715.66" x2="105.5" y2="715.66" stroke="#1a1a1a" stroke-width="0.9"/>
<line x1="103.3" y1="707.09" x2="105.5" y2="707.09" stroke="#1a1a1a" stroke-width="0.9"/>
<line x1="103.3" y1="698.52" x2="105.5" y2="698.52" stroke="#1a1a1a" stroke-width="0.9"/>
<line x1="103.3" y1="689.95" x2="105.5" y2="689.95" stroke="#1a1a1a" stroke-width="0.9"/>
<line x1="103.3" y1="681.38" x2="105.5" y2="681.38" stroke="#1a1a1a" stroke-width="0.9"/>
<line x1="103.3" y1="672.81" x2="105.5" y2="672.81" stroke="#1a1a1a" stroke-width="0.9"/>
<line x1="103.3" y1="664.24" x2="105.5" y2="664.24" stroke="#1a1a1a" stroke-width="0.9"/>
<line x1="103.3" y1="655.67" x2="105.5" y2="655.67" stroke="#1a1a1a" stroke-width="0.9"/>
<line x1="103.3" y1="647.1" x2="105.5" y2="647.1" stroke="#1a1a1a" stroke-width="0.9"/>
<line x1="103.3" y1="638.53" x2="105.5" y2="638.53" stroke="#1a1a1a" stroke-width="0.9"/>
<line x1="103.3" y1="629.96" x2="105.5" y2="629.96" stroke="#1a1a1a" stroke-width="0.9"/>
<line x1="103.3" y1="621.39" x2="105.5" y2="621.39" stroke="#1a1a1a" stroke-width="0.9"/>
<line x1="103.3" y1="612.82" x2="105.5" y2="612.82" stroke="#1a1a1a" stroke-width="0.9"/>
<line x1="101.3" y1="732.8" x2="105.5" y2="732.8" stroke="#1a1a1a" stroke-width="1"/>
<text font-size="8.3" text-anchor="end" font-weight="bold" fill="#111111" stroke="#111111" stroke-width="0.32" transform="translate(100.1 735.79) scale(1 1.06)">0</text>
<line x1="101.3" y1="689.95" x2="105.5" y2="689.95" stroke="#1a1a1a" stroke-width="1"/>
<text font-size="8.3" text-anchor="end" font-weight="bold" fill="#111111" stroke="#111111" stroke-width="0.32" transform="translate(100.1 692.94) scale(1 1.06)">5</text>
<line x1="101.3" y1="647.1" x2="105.5" y2="647.1" stroke="#1a1a1a" stroke-width="1"/>
<text font-size="8.3" text-anchor="end" font-weight="bold" fill="#111111" stroke="#111111" stroke-width="0.32" transform="translate(100.1 650.09) scale(1 1.06)">10</text>
<line x1="104.9" y1="732.8" x2="180.3" y2="732.8" stroke="#1a1a1a" stroke-width="1.3"/>
<line x1="126.8" y1="732.8" x2="126.8" y2="737.6" stroke="#1a1a1a" stroke-width="1.1"/>
<text font-size="8.3" text-anchor="middle" font-weight="bold" fill="#111111" stroke="#111111" stroke-width="0.32" transform="translate(126.8 748) scale(1 1.06)">WT</text>
<line x1="158.55" y1="732.8" x2="158.55" y2="737.6" stroke="#1a1a1a" stroke-width="1.1"/>
<text font-size="8.3" text-anchor="middle" font-weight="bold" fill="#111111" stroke="#111111" stroke-width="0.32" transform="translate(157.35 748) scale(1 1.06)">IF1<tspan font-size="6" dy="-3.6" font-weight="normal" stroke-width="0.15">-/-</tspan></text>
<text font-size="9.9" text-anchor="middle" font-weight="bold" fill="#111111" stroke="#111111" stroke-width="0.6" transform="translate(74.06 673.26) rotate(-90) scale(1 0.92)">ATP production</text>
<text font-size="9.9" text-anchor="middle" font-weight="bold" fill="#111111" stroke="#111111" stroke-width="0.6" transform="translate(85.5 673.8) rotate(-90) scale(1 0.92)">OCR (pmol/min/1000 cells)</text>
<text font-size="16.2" text-anchor="start" font-weight="bold" fill="#111" stroke="#111" stroke-width="0.4" transform="translate(41.8 623) scale(1 1)">J</text>
<path d="M303.7 739.2 V647.4 H323.4 V739.2 Z" fill="#ffffff" stroke="none"/>
<path d="M303.7 739.2 V647.4 H323.4 V739.2" fill="none" stroke="#ff0000" stroke-width="2"/>
<path d="M335.6 739.2 V657.7 H355 V739.2 Z" fill="#ffffff" stroke="none"/>
<path d="M335.6 739.2 V657.7 H355 V739.2" fill="none" stroke="#1e8c1e" stroke-width="2"/>
<line x1="313.55" y1="644.5" x2="313.55" y2="650.3" stroke="#ff0000" stroke-width="0.9" stroke-opacity="0.6"/>
<line x1="309.55" y1="644.5" x2="317.55" y2="644.5" stroke="#ff0000" stroke-width="0.9" stroke-opacity="0.6"/>
<line x1="309.55" y1="650.3" x2="317.55" y2="650.3" stroke="#ff0000" stroke-width="0.9" stroke-opacity="0.6"/>
<rect x="308.3" y="641" width="3.8" height="3.8" fill="#ffffff" stroke="#ff0000" stroke-width="1.1"/>
<rect x="315.2" y="638.5" width="3.8" height="3.8" fill="#ffffff" stroke="#ff0000" stroke-width="1.1"/>
<rect x="308.3" y="648.8" width="3.8" height="3.8" fill="#ffffff" stroke="#ff0000" stroke-width="1.1"/>
<rect x="315.2" y="646.9" width="3.8" height="3.8" fill="#ffffff" stroke="#ff0000" stroke-width="1.1"/>
<line x1="345.3" y1="652.9" x2="345.3" y2="659.7" stroke="#1e8c1e" stroke-width="0.9" stroke-opacity="0.6"/>
<line x1="340.1" y1="652.9" x2="350.5" y2="652.9" stroke="#1e8c1e" stroke-width="0.9" stroke-opacity="0.6"/>
<line x1="340.1" y1="659.7" x2="350.5" y2="659.7" stroke="#1e8c1e" stroke-width="0.9" stroke-opacity="0.6"/>
<circle cx="338.6" cy="651.3" r="1.95" fill="#1e8c1e"/>
<circle cx="352" cy="654.2" r="1.95" fill="#1e8c1e"/>
<circle cx="345.4" cy="656.7" r="1.95" fill="#1e8c1e"/>
<circle cx="338.6" cy="661.4" r="1.95" fill="#1e8c1e"/>
<text font-size="11" text-anchor="middle" font-weight="bold" fill="#111111" stroke="#111111" stroke-width="0.35" transform="translate(343 648.51) scale(1 1.06)">*</text>
<text font-size="11" text-anchor="middle" font-weight="bold" fill="#111111" stroke="#111111" stroke-width="0.35" transform="translate(349 648.51) scale(1 1.06)">*</text>
<line x1="292.5" y1="739.8" x2="292.5" y2="618.6" stroke="#1a1a1a" stroke-width="1.3"/>
<line x1="288.3" y1="739.2" x2="292.5" y2="739.2" stroke="#1a1a1a" stroke-width="1"/>
<text font-size="8.3" text-anchor="end" font-weight="bold" fill="#111111" stroke="#111111" stroke-width="0.32" transform="translate(287.1 742.19) scale(1 1.06)">0</text>
<line x1="288.3" y1="699" x2="292.5" y2="699" stroke="#1a1a1a" stroke-width="1"/>
<text font-size="8.3" text-anchor="end" font-weight="bold" fill="#111111" stroke="#111111" stroke-width="0.32" transform="translate(287.1 701.99) scale(1 1.06)">5</text>
<line x1="288.3" y1="658.8" x2="292.5" y2="658.8" stroke="#1a1a1a" stroke-width="1"/>
<text font-size="8.3" text-anchor="end" font-weight="bold" fill="#111111" stroke="#111111" stroke-width="0.32" transform="translate(287.1 661.79) scale(1 1.06)">10</text>
<line x1="288.3" y1="618.6" x2="292.5" y2="618.6" stroke="#1a1a1a" stroke-width="1"/>
<text font-size="8.3" text-anchor="end" font-weight="bold" fill="#111111" stroke="#111111" stroke-width="0.32" transform="translate(287.1 621.59) scale(1 1.06)">15</text>
<line x1="291.9" y1="739.2" x2="366.7" y2="739.2" stroke="#1a1a1a" stroke-width="1.3"/>
<line x1="313.55" y1="739.2" x2="313.55" y2="744" stroke="#1a1a1a" stroke-width="1.1"/>
<text font-size="8.3" text-anchor="middle" font-weight="bold" fill="#111111" stroke="#111111" stroke-width="0.32" transform="translate(313.55 754.7) scale(1 1.06)">WT</text>
<line x1="345.3" y1="739.2" x2="345.3" y2="744" stroke="#1a1a1a" stroke-width="1.1"/>
<text font-size="8.3" text-anchor="middle" font-weight="bold" fill="#111111" stroke="#111111" stroke-width="0.32" transform="translate(344.1 754.7) scale(1 1.06)">IF1<tspan font-size="6" dy="-3.6" font-weight="normal" stroke-width="0.15">-/-</tspan></text>
<text font-size="9.9" text-anchor="middle" font-weight="bold" fill="#111111" stroke="#111111" stroke-width="0.6" transform="translate(260.33 679.8) rotate(-90) scale(1 0.92)">Spare respiratory capacity</text>
<text font-size="9.9" text-anchor="middle" font-weight="bold" fill="#111111" stroke="#111111" stroke-width="0.6" transform="translate(271.6 680.16) rotate(-90) scale(1 0.92)">OCR (pmol/min/1000 cells)</text>
<text font-size="16.2" text-anchor="start" font-weight="bold" fill="#111" stroke="#111" stroke-width="0.4" transform="translate(227.7 616.8) scale(1 1)">K</text>
<path d="M461 739.6 V689.9 H480.3 V739.6 Z" fill="#ffffff" stroke="none"/>
<path d="M461 739.6 V689.9 H480.3 V739.6" fill="none" stroke="#ff0000" stroke-width="2"/>
<path d="M492.7 739.6 V653.4 H511.3 V739.6 Z" fill="#ffffff" stroke="none"/>
<path d="M492.7 739.6 V653.4 H511.3 V739.6" fill="none" stroke="#1e8c1e" stroke-width="2"/>
<line x1="470.65" y1="686.5" x2="470.65" y2="693.2" stroke="#ff0000" stroke-width="0.9" stroke-opacity="0.6"/>
<line x1="466.05" y1="686.5" x2="475.25" y2="686.5" stroke="#ff0000" stroke-width="0.9" stroke-opacity="0.6"/>
<line x1="466.05" y1="693.2" x2="475.25" y2="693.2" stroke="#ff0000" stroke-width="0.9" stroke-opacity="0.6"/>
<rect x="462.4" y="683.7" width="3.8" height="3.8" fill="#ffffff" stroke="#ff0000" stroke-width="1.1"/>
<rect x="468.9" y="683.7" width="3.8" height="3.8" fill="#ffffff" stroke="#ff0000" stroke-width="1.1"/>
<rect x="475.5" y="683.7" width="3.8" height="3.8" fill="#ffffff" stroke="#ff0000" stroke-width="1.1"/>
<rect x="468.9" y="694.6" width="3.8" height="3.8" fill="#ffffff" stroke="#ff0000" stroke-width="1.1"/>
<line x1="502" y1="649.5" x2="502" y2="657.3" stroke="#1e8c1e" stroke-width="0.9" stroke-opacity="0.6"/>
<line x1="498" y1="649.5" x2="506" y2="649.5" stroke="#1e8c1e" stroke-width="0.9" stroke-opacity="0.6"/>
<line x1="498" y1="657.3" x2="506" y2="657.3" stroke="#1e8c1e" stroke-width="0.9" stroke-opacity="0.6"/>
<circle cx="498.6" cy="646.9" r="1.95" fill="#1e8c1e"/>
<circle cx="505.4" cy="646.9" r="1.95" fill="#1e8c1e"/>
<circle cx="495.6" cy="656.7" r="1.95" fill="#1e8c1e"/>
<circle cx="509" cy="655.3" r="1.95" fill="#1e8c1e"/>
<text font-size="10" text-anchor="middle" font-weight="bold" fill="#111111" stroke="#111111" stroke-width="0.35" transform="translate(499.4 643.8) scale(1 1.06)">*</text>
<text font-size="10" text-anchor="middle" font-weight="bold" fill="#111111" stroke="#111111" stroke-width="0.35" transform="translate(504.4 643.8) scale(1 1.06)">*</text>
<line x1="450.6" y1="740.2" x2="450.6" y2="618.8" stroke="#1a1a1a" stroke-width="1.3"/>
<line x1="446.4" y1="739.6" x2="450.6" y2="739.6" stroke="#1a1a1a" stroke-width="1"/>
<text font-size="8.3" text-anchor="end" font-weight="bold" fill="#111111" stroke="#111111" stroke-width="0.32" transform="translate(445.2 742.59) scale(1 1.06)">0.0</text>
<line x1="446.4" y1="699.33" x2="450.6" y2="699.33" stroke="#1a1a1a" stroke-width="1"/>
<text font-size="8.3" text-anchor="end" font-weight="bold" fill="#111111" stroke="#111111" stroke-width="0.32" transform="translate(445.2 702.32) scale(1 1.06)">0.5</text>
<line x1="446.4" y1="659.07" x2="450.6" y2="659.07" stroke="#1a1a1a" stroke-width="1"/>
<text font-size="8.3" text-anchor="end" font-weight="bold" fill="#111111" stroke="#111111" stroke-width="0.32" transform="translate(445.2 662.05) scale(1 1.06)">1.0</text>
<line x1="446.4" y1="618.8" x2="450.6" y2="618.8" stroke="#1a1a1a" stroke-width="1"/>
<text font-size="8.3" text-anchor="end" font-weight="bold" fill="#111111" stroke="#111111" stroke-width="0.32" transform="translate(445.2 621.79) scale(1 1.06)">1.5</text>
<line x1="450" y1="739.6" x2="523.5" y2="739.6" stroke="#1a1a1a" stroke-width="1.3"/>
<line x1="470.65" y1="739.6" x2="470.65" y2="744.4" stroke="#1a1a1a" stroke-width="1.1"/>
<text font-size="8.3" text-anchor="middle" font-weight="bold" fill="#111111" stroke="#111111" stroke-width="0.32" transform="translate(470.65 754.5) scale(1 1.06)">WT</text>
<line x1="502" y1="739.6" x2="502" y2="744.4" stroke="#1a1a1a" stroke-width="1.1"/>
<text font-size="8.3" text-anchor="middle" font-weight="bold" fill="#111111" stroke="#111111" stroke-width="0.32" transform="translate(500.8 754.5) scale(1 1.06)">IF1<tspan font-size="6" dy="-3.6" font-weight="normal" stroke-width="0.15">-/-</tspan></text>
<text font-size="9.9" text-anchor="middle" font-weight="bold" fill="#111111" stroke="#111111" stroke-width="0.6" transform="translate(416.49 678.84) rotate(-90) scale(1 0.92)">Proton leak</text>
<text font-size="9.9" text-anchor="middle" font-weight="bold" fill="#111111" stroke="#111111" stroke-width="0.6" transform="translate(427.7 680.37) rotate(-90) scale(1 0.92)">OCR (pmol/min/1000 cells)</text>
<text font-size="16.2" text-anchor="start" font-weight="bold" fill="#111" stroke="#111" stroke-width="0.4" transform="translate(382 613.7) scale(1 1)">L</text>
</svg>
</body></html>
